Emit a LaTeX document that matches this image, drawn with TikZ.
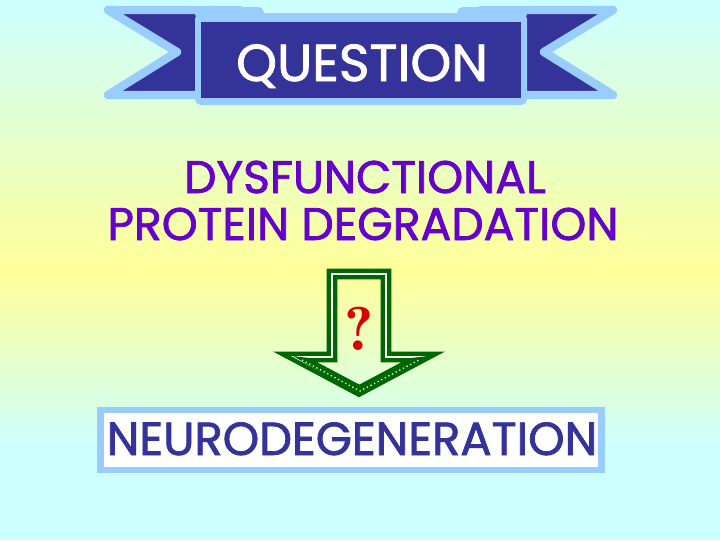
\documentclass[tikz,border=0pt]{standalone}
\usepackage{fontspec}
\setmainfont{Poppins}[FakeBold=1.6]
\usepackage{xcolor}
\usepackage{tikz}

\definecolor{skyc}{HTML}{CCFFFF}
\definecolor{paley}{HTML}{FFFF99}
\definecolor{navy}{HTML}{333399}
\definecolor{lightb}{HTML}{99CCFF}
\definecolor{purp}{HTML}{6600CC}
\definecolor{darkg}{HTML}{006600}

\begin{document}
\begin{tikzpicture}[x=0.025cm, y=-0.025cm,
  tail/.style={fill=navy, draw=lightb, line width=6, line join=round},
  arrowline/.style={draw=darkg, line width=3.2, double=white, double distance=1.4, line join=miter},
  word/.style={inner sep=0, anchor=base}]

% background
\shade[top color=skyc, bottom color=paley] (0,0) rectangle (720,270);
\shade[top color=paley, bottom color=skyc] (0,270) rectangle (720,450);
\fill[skyc] (0,450) rectangle (720,540);
\useasboundingbox (0,0) rectangle (720,540);

% banner
\begin{scope}
\draw[tail] (108,10) -- (240,10) -- (240,95) -- (108,95) -- (177,52) -- cycle;
\draw[tail] (613,10) -- (481,10) -- (481,95) -- (613,95) -- (544,52) -- cycle;
\fill[lightb, rounded corners=4] (195,7) rectangle (264,20);
\fill[lightb, rounded corners=4] (457,7) rectangle (527,20);
\fill[lightb, rounded corners=4] (195,13) rectangle (527,105);
\fill[navy] (201,22) rectangle (521,98);
\node[word, white, font=\fontsize{37}{37}\selectfont] (question) at (362,81) {QUESTION};
\end{scope}

% cause
\node[word, purp, font=\fontsize{32.5}{32.5}\selectfont] (dysfunc) at (365,193) {DYSFUNCTIONAL};
\node[word, purp, font=\fontsize{32.5}{32.5}\selectfont] (protdeg) at (363,240) {PROTEIN DEGRADATION};

% arrow
\draw[arrowline] (332,274) -- (386,274) -- (386,357) -- (423,357) -- (359,391) -- (295,357) -- (332,357) -- cycle;
\fill[darkg] (293,356) -- (360,395) -- (428,356) -- (411,358) -- (360,385) -- (309,358) -- cycle;
\draw[white, line width=0.9, dotted] (302,360) -- (360,391) -- (419,360);
\node[word, red!85!black, font=\fontfamily{lmr}\bfseries\fontsize{44}{44}\selectfont] (qmark) at (359,350) {?};

% effect
\fill[lightb] (97,407) rectangle (605,473);
\fill[white] (104,413) rectangle (598,467);
\node[word, navy, font=\fontsize{33}{33}\selectfont] (neuro) at (352,455) {NEURODEGENERATION};
\end{tikzpicture}
\end{document}
